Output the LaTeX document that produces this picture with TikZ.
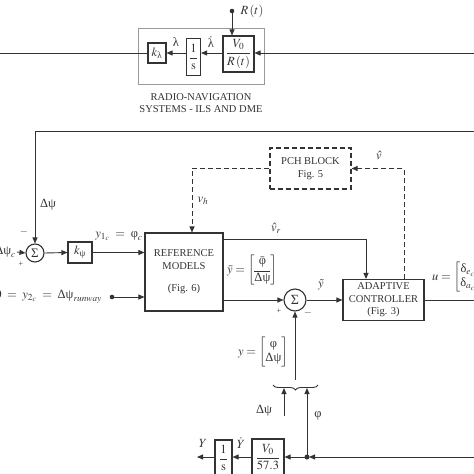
\documentclass[tikz,border=0pt]{standalone}
\usepackage{amsmath}
\usepackage{mathptmx}
\usepackage{fontspec}
\setmainfont{Liberation Serif}
\usetikzlibrary{arrows.meta,decorations.pathreplacing}
\definecolor{ink}{HTML}{333333}
\definecolor{framegray}{HTML}{9A9A9A}
\newcommand{\gphi}{\text{φ}}
\newcommand{\gpsi}{\text{ψ}}
\newcommand{\glam}{\text{λ}}
\newcommand{\gdel}{\text{δ}}
\newcommand{\gDel}{\text{Δ}}
\tikzset{
  every node/.style={font=\fontsize{10.5}{12.5}\selectfont, text=ink},
  blk/.style={draw=ink, line width=1.1pt, fill=white, inner sep=0pt, align=center},
  mblk/.style={blk, font=\fontsize{12.5}{14}\selectfont},
  dblk/.style={blk, dashed, dash pattern=on 5pt off 3pt},
  sumnode/.style={draw=ink, line width=1.1pt, circle, fill=white, inner sep=0pt, minimum size=#1},
  wire/.style={draw=ink, line width=0.9pt},
  dwire/.style={wire, dash pattern=on 5pt off 3pt},
  lab/.style={inner sep=1pt},
  mlab/.style={inner sep=1pt, font=\fontsize{12.5}{14}\selectfont},
  dotc/.style={fill=ink}
}
\begin{document}
\begin{tikzpicture}[x=1pt,y=-1pt, >={Triangle[length=6pt,width=5pt]}]
\useasboundingbox (0,0) rectangle (474,474);
% ---------- radio navigation block ----------
\node[draw=framegray, line width=1pt, minimum width=126pt, minimum height=56pt, inner sep=0pt] (radio) at (201,56) {};
\node[lab, align=center, font=\fontsize{10.5}{12}\selectfont] (radiolab) at (201,103) {RADIO-NAVIGATION\\SYSTEMS - ILS AND DME};
\node[mblk, minimum width=18pt, minimum height=20pt] (kl) at (157,53) {$k_{\glam}$};
\node[mblk, minimum width=14pt, minimum height=37pt] (sa) at (193.5,57) {$\dfrac{1}{\mathrm{s}}$};
\node[mblk, minimum width=31pt, minimum height=36pt] (vr) at (238.5,54) {$\dfrac{V_0}{R\left(t\right)}$};
\coordinate (rt) at (232,11);
\coordinate (inR) at (474,53);
\coordinate (outL) at (0,53);
\fill[ink] (rt) circle (2.3pt);
\node[mlab] (rtlab) at (252,11) {$R\left(t\right)$};
\draw[wire,->] (rt) -- (rt |- vr.north);
\draw[wire,->] (inR) -- (inR -| vr.east);
\draw[wire,->] (vr.west |- inR) -- (inR -| sa.east);
\draw[wire,->] (sa.west |- inR) -- (inR -| kl.east);
\draw[wire] (kl.west) -- (outL);
\node[mlab] (lamlab) at (176,42) {$\glam$};
\node[mlab] (ldlab) at (211,42) {$\dot{\glam}$};
% ---------- middle loop ----------
\node[sumnode=18pt] (s1) at (35,253) {\fontsize{13}{13}\selectfont Σ};
\node[mblk, minimum width=24pt, minimum height=21pt] (kpsi) at (80,252.5) {$k_{\gpsi}$};
\node[blk, minimum width=78pt, minimum height=78pt] (ref) at (184,272) {REFERENCE\\MODELS\\[10pt](Fig. 6)};
\node[dblk, minimum width=81pt, minimum height=41pt] (pch) at (310.5,168.5) {PCH BLOCK\\Fig. 5};
\node[blk, minimum width=81pt, minimum height=41pt] (ctrl) at (383.5,300) {ADAPTIVE\\CONTROLLER\\(Fig. 3)};
\node[sumnode=22pt] (s2) at (295,300) {\fontsize{14}{14}\selectfont Σ};
\coordinate (fbR) at (474,131);
\draw[wire,->] (fbR) -| (s1.north);
\node[mlab] (dpsilab) at (48,205) {$\gDel\gpsi$};
\node[mlab, anchor=east] (dpc) at (17,252) {$\gDel\gpsi_c$};
\draw[wire,->] (dpc.east) -- (s1.west);
\node[lab] (m1) at (24,232) {$-$};
\node[lab] (p1) at (21,264) {\fontsize{8}{8}\selectfont +};
\draw[wire,->] (s1.east) -- (kpsi.west);
\draw[wire,->] (kpsi.east) -- (kpsi.east -| ref.west);
\node[mlab] (y1lab) at (119,236) {$y_{1_c} \;=\; \gphi_c$};
\coordinate (d2) at (112,297);
\fill[ink] (d2) circle (2.3pt);
\draw[wire,->] (d2) -- (d2 -| ref.west);
\node[mlab, anchor=east] (y2lab) at (103,297) {$0 \;=\; y_{2_c} \;=\; \gDel\gpsi_{\mathit{runway}}$};
% PCH dashed paths
\coordinate (vhx) at (192,0);
\draw[dwire,->] (pch.west) -| (ref.north -| vhx);
\node[mlab] (vhlab) at (203,201) {$v_h$};
\coordinate (vx) at (404,0);
\draw[dwire,->] (ctrl.north -| vx) |- (pch.east);
\node[mlab] (vhatlab) at (379,155) {$\hat{v}$};
% vr hat
\coordinate (vrc) at (366,239);
\draw[wire,->] (ref.east |- vrc) -| (ctrl.north -| vrc);
\node[mlab] (vrlab) at (276,228) {$\hat{v}_r$};
% y bar
\draw[wire,->] (ref.east |- s2.west) -- (s2.west);
\node[mlab] (ybarlab) at (252,270) {$\bar{y} = \begin{bmatrix}\bar{\gphi}\\[2pt] \overline{\gDel\gpsi}\end{bmatrix}$};
\node[lab] (p2) at (279,311) {\fontsize{8}{8}\selectfont +};
\node[lab] (m2) at (308,313) {$-$};
\draw[wire,->] (s2.east) -- (ctrl.west);
\node[mlab] (ytlab) at (321,285) {$\tilde{y}$};
\coordinate (uR) at (474,300);
\draw[wire] (ctrl.east) -- (uR);
\node[mlab, anchor=west] (ulab) at (431,277) {$u = \begin{bmatrix}\gdel_{e_c}\\ \gdel_{a_c}\end{bmatrix}$};
% measured y
\coordinate (brt) at (295,380);
\draw[wire,->] (brt) -- (s2.south);
\node[mlab] (ylab) at (263,352) {$y = \begin{bmatrix}\gphi\\ \gDel\gpsi\end{bmatrix}$};
\coordinate (brl) at (273,385);
\coordinate (brr) at (318,385);
\draw[wire, decorate, decoration={brace, mirror, amplitude=5pt}] (brl) -- (brr);
\coordinate (dpb) at (284,416);
\coordinate (dpt) at (284,388);
\draw[wire,->] (dpb) -- (dpt);
\node[mlab] (dpsi2) at (264,411) {$\gDel\gpsi$};
\coordinate (d3) at (307,457);
\fill[ink] (d3) circle (2.5pt);
\coordinate (pht) at (307,388);
\draw[wire,->] (d3) -- (pht);
\node[mlab] (philab) at (318,416) {$\gphi$};
% bottom chain
\node[mblk, minimum width=32pt, minimum height=37pt] (v57) at (268,457.5) {$\dfrac{V_0}{57.3}$};
\node[mblk, minimum width=17pt, minimum height=36pt] (sb) at (223.5,458) {$\dfrac{1}{\mathrm{s}}$};
\coordinate (bR) at (474,457);
\draw[wire,->,shorten >=2pt] (bR) -- (d3);
\draw[wire,->] (d3) -- (d3 -| v57.east);
\draw[wire,->] (v57.west |- bR) -- (bR -| sb.east);
\coordinate (yend) at (197,457);
\draw[wire,->] (sb.west |- bR) -- (yend);
\node[mlab] (ydlab) at (241,443) {$\dot{Y}$};
\node[mlab] (Ylab) at (203,443) {$Y$};
\end{tikzpicture}
\end{document}
